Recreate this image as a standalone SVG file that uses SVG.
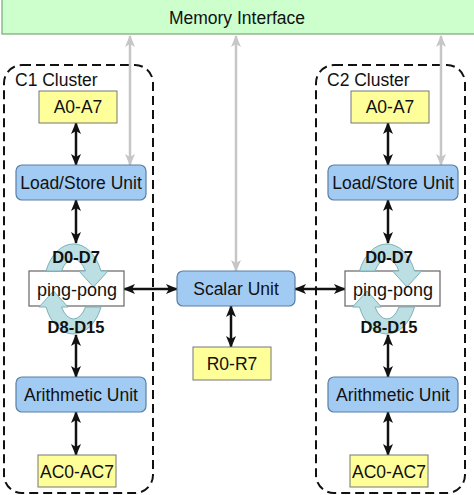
<svg xmlns="http://www.w3.org/2000/svg" width="474" height="495" viewBox="0 0 474 495">
<defs>
<style>
text{font-family:"Liberation Sans",Arial,sans-serif;font-size:17.5px;fill:#111;text-anchor:middle}
.lbl{text-anchor:start}
.d{font-weight:bold;font-size:16.5px}
.cl{fill:none;stroke:#111;stroke-width:2;stroke-dasharray:9,5}
.reg{fill:#ffff99;stroke:#777;stroke-width:1}
.unit{fill:#a2cbf3;stroke:#5a7fa5;stroke-width:1.2}
.pp{fill:#fff;stroke:#666;stroke-width:1.2}
.ring{fill:#bcdfe4;stroke:#7fb0b8;stroke-width:1}
.ba{stroke:#111;stroke-width:2.5;fill:none;marker-start:url(#ah);marker-end:url(#ah)}
.ga{stroke:#c6c6c6;stroke-width:2.5;fill:none;marker-start:url(#gh);marker-end:url(#gh)}
</style>
<marker id="ah" viewBox="0 0 12 10" refX="11" refY="5" markerWidth="12" markerHeight="10" markerUnits="userSpaceOnUse" orient="auto-start-reverse"><path d="M0,0 L12,5 L0,10 L3,5 Z" fill="#111"/></marker>
<marker id="gh" viewBox="0 0 12 10" refX="11" refY="5" markerWidth="12" markerHeight="10" markerUnits="userSpaceOnUse" orient="auto-start-reverse"><path d="M0,0 L12,5 L0,10 L3,5 Z" fill="#c6c6c6"/></marker>
</defs>
<rect width="474" height="495" fill="#fff"/>

<g id="memory">
<rect x="2" y="-2" width="480" height="36" fill="#ccffcc" stroke="#7aa67a" stroke-width="1.2"/>
<text x="237" y="24">Memory Interface</text>
</g>

<g id="c1-cluster">
<rect class="cl" x="4" y="65" width="149" height="428" rx="18"/>
<text class="lbl" x="15" y="86">C1 Cluster</text>
</g>
<g id="c2-cluster">
<rect class="cl" x="316" y="65" width="149" height="428" rx="18"/>
<text class="lbl" x="327" y="86">C2 Cluster</text>
</g>

<g id="connectors">
<line class="ga" x1="130" y1="36" x2="130" y2="165"/>
<line class="ga" x1="236" y1="36" x2="236" y2="271"/>
<line class="ga" x1="441" y1="36" x2="441" y2="165"/>
<line class="ba" x1="76" y1="123" x2="76" y2="165"/>
<line class="ba" x1="76" y1="200" x2="76" y2="243"/>
<line class="ba" x1="76" y1="335" x2="76" y2="377"/>
<line class="ba" x1="76" y1="412" x2="76" y2="455"/>
<line class="ba" x1="388" y1="123" x2="388" y2="165"/>
<line class="ba" x1="388" y1="200" x2="388" y2="243"/>
<line class="ba" x1="388" y1="335" x2="388" y2="377"/>
<line class="ba" x1="388" y1="412" x2="388" y2="455"/>
<line class="ba" x1="124" y1="289" x2="177" y2="289"/>
<line class="ba" x1="295" y1="289" x2="345" y2="289"/>
<line class="ba" x1="231" y1="306" x2="231" y2="347"/>
</g>

<g id="c1-a0a7"><rect class="reg" x="39" y="91" width="78" height="32"/><text x="78" y="113">A0-A7</text></g>
<g id="c1-lsu"><rect class="unit" x="16" y="165" width="130" height="35" rx="6"/><text x="81" y="189">Load/Store Unit</text></g>
<g id="c1-pingpong">
<rect class="pp" x="29" y="271" width="95" height="35"/>
<path class="ring" d="M46,271 A30,45 0 0,1 101,271 L108,271 L93.5,287 L79,271 L85.5,271 A15,30 0 0,0 61.5,271 Z"/>
<path class="ring" d="M101,307 A30,45 0 0,1 46,307 L39,307 L53.5,291 L68,307 L61.5,307 A15,30 0 0,0 85.5,307 Z"/>
<text x="77" y="296" style="font-size:18px">ping-pong</text>
<text class="d" x="76" y="263">D0-D7</text>
<text class="d" x="76" y="333">D8-D15</text>
</g>
<g id="c1-arith"><rect class="unit" x="16" y="377" width="130" height="35" rx="6"/><text x="81" y="401">Arithmetic Unit</text></g>
<g id="c1-ac"><rect class="reg" x="38" y="455" width="78" height="32"/><text x="77" y="478">AC0-AC7</text></g>

<g id="scalar"><rect class="unit" x="177" y="271" width="118" height="35" rx="6"/><text x="236" y="295">Scalar Unit</text></g>
<g id="r0r7"><rect class="reg" x="193" y="347" width="78" height="33"/><text x="232" y="370">R0-R7</text></g>

<g id="c2-a0a7"><rect class="reg" x="351" y="91" width="78" height="32"/><text x="390" y="113">A0-A7</text></g>
<g id="c2-lsu"><rect class="unit" x="328" y="165" width="130" height="35" rx="6"/><text x="393" y="189">Load/Store Unit</text></g>
<g id="c2-pingpong">
<rect class="pp" x="345" y="271" width="95" height="35"/>
<g transform="translate(313.5,0)">
<path class="ring" d="M46,271 A30,45 0 0,1 101,271 L108,271 L93.5,287 L79,271 L85.5,271 A15,30 0 0,0 61.5,271 Z"/>
<path class="ring" d="M101,307 A30,45 0 0,1 46,307 L39,307 L53.5,291 L68,307 L61.5,307 A15,30 0 0,0 85.5,307 Z"/>
</g>
<text x="393" y="296" style="font-size:18px">ping-pong</text>
<text class="d" x="389" y="263">D0-D7</text>
<text class="d" x="389" y="333">D8-D15</text>
</g>
<g id="c2-arith"><rect class="unit" x="328" y="377" width="130" height="35" rx="6"/><text x="393" y="401">Arithmetic Unit</text></g>
<g id="c2-ac"><rect class="reg" x="350" y="455" width="78" height="32"/><text x="389" y="478">AC0-AC7</text></g>
</svg>
